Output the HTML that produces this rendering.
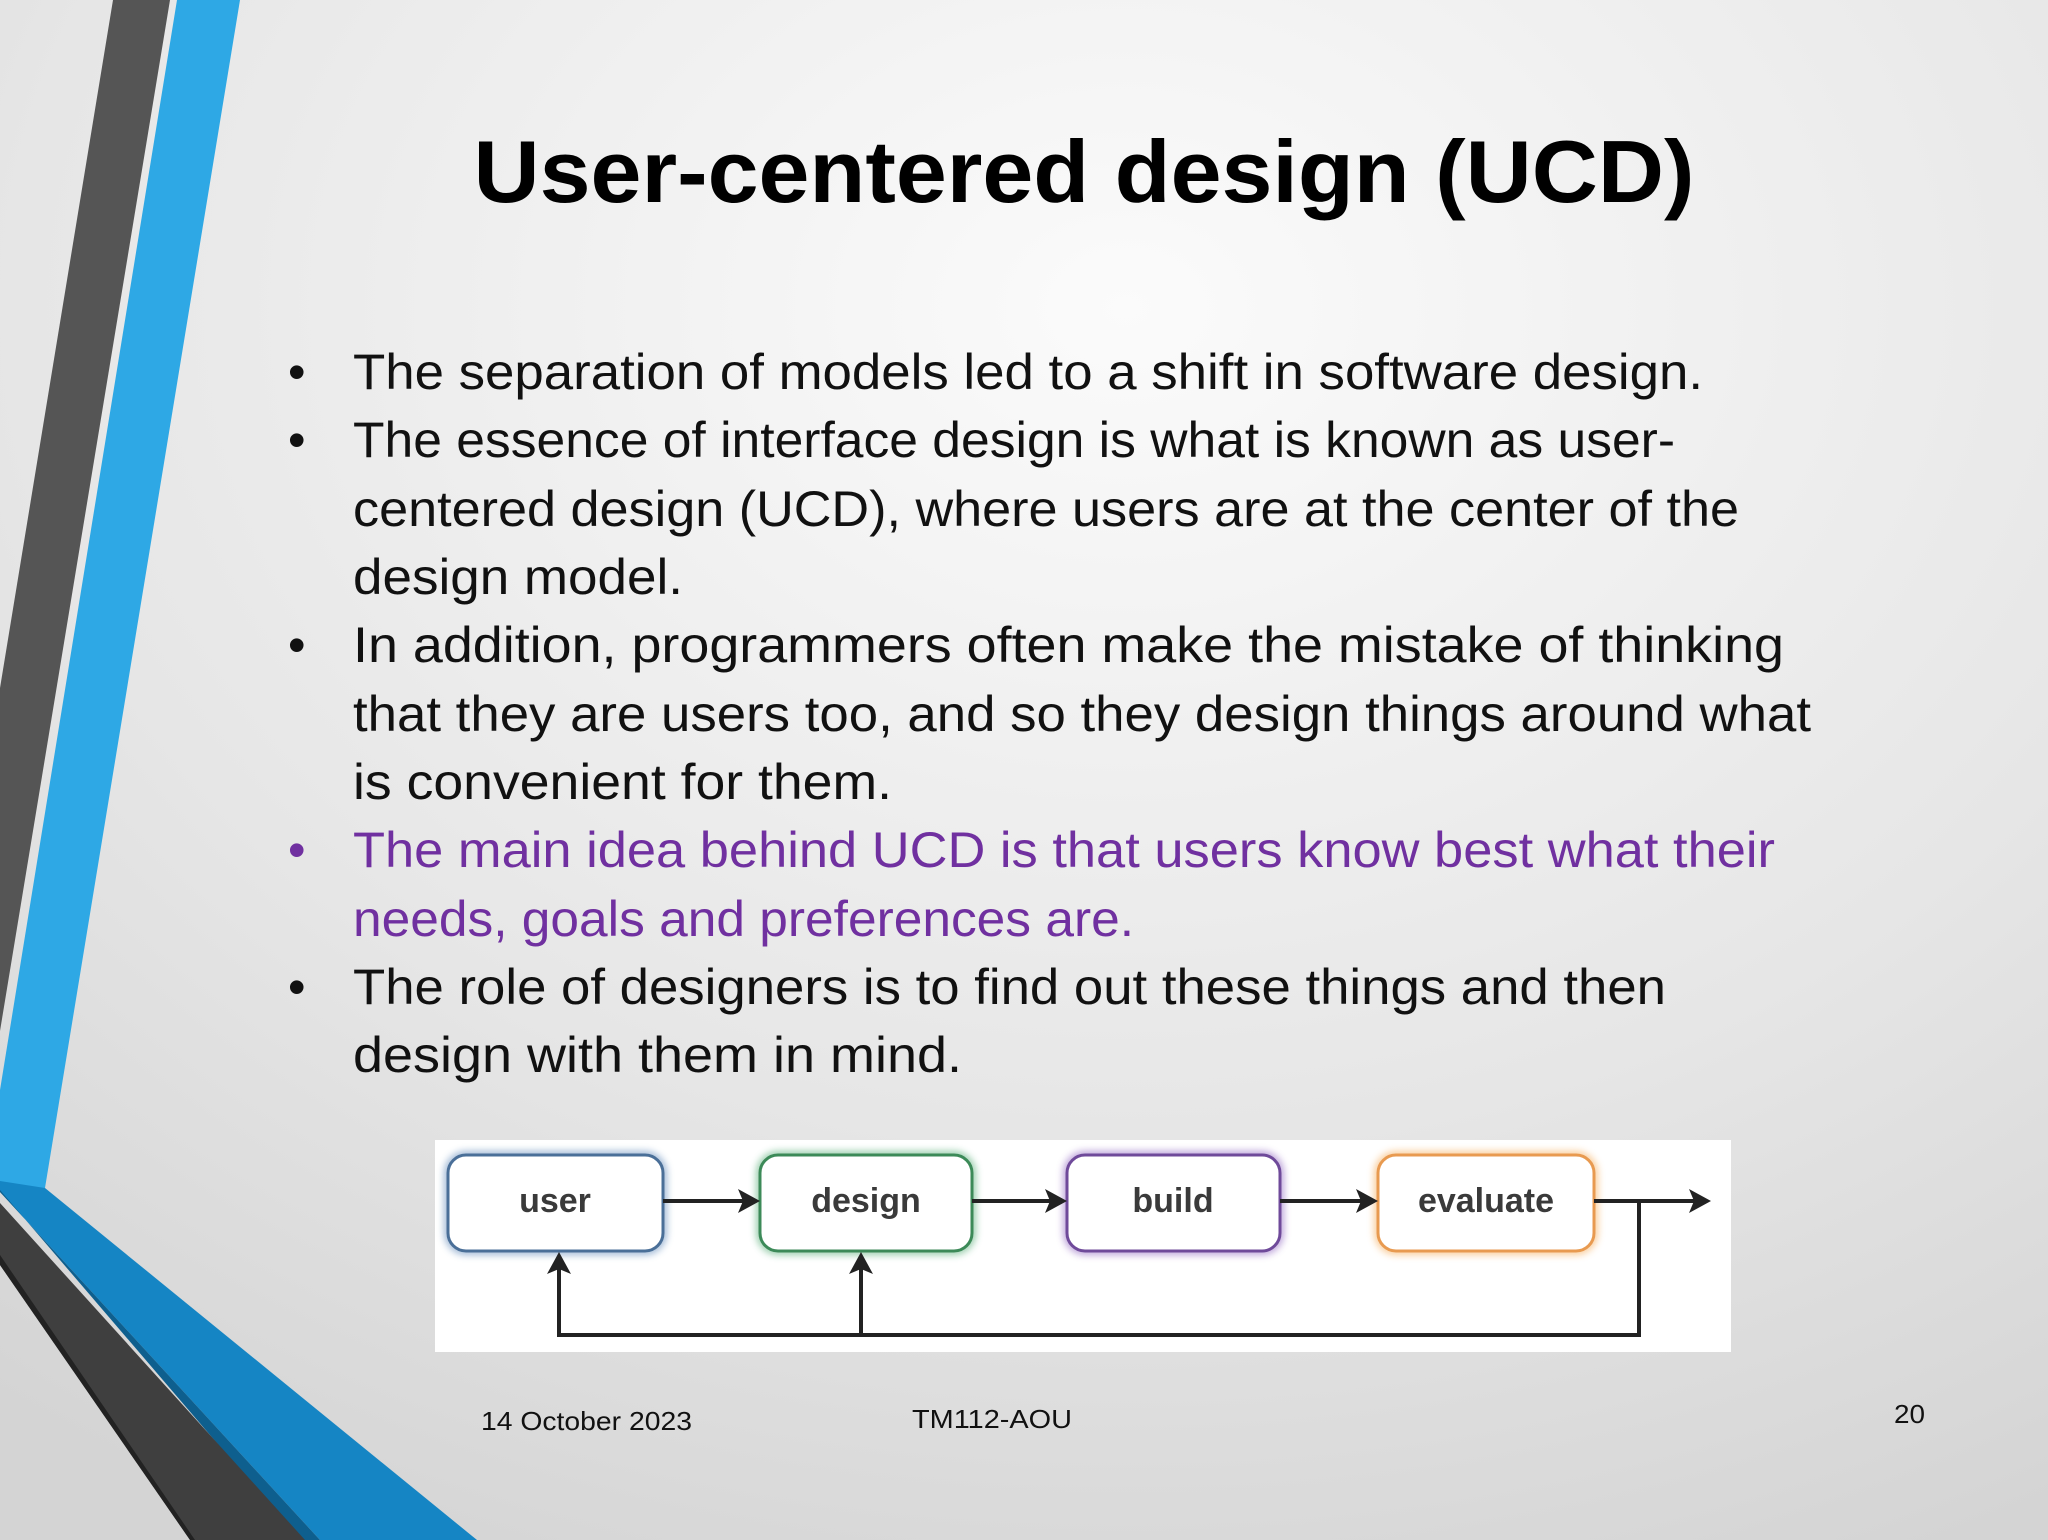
<!DOCTYPE html>
<html><head><meta charset="utf-8"><style>
html,body{margin:0;padding:0;width:2048px;height:1540px;overflow:hidden}
</style></head><body>
<svg width="2048" height="1540" viewBox="0 0 2048 1540" xmlns="http://www.w3.org/2000/svg">
<defs>
<radialGradient id="bg" cx="0.55" cy="0.2" r="0.9">
<stop offset="0" stop-color="#fbfbfb"/><stop offset="0.6" stop-color="#e6e6e6"/><stop offset="1" stop-color="#d4d4d4"/>
</radialGradient>
<filter id="gl" x="-20%" y="-30%" width="140%" height="160%"><feGaussianBlur stdDeviation="4"/></filter>
</defs>
<rect width="2048" height="1540" fill="url(#bg)"/>
<polygon points="113,0 170,0 0,1031 0,688" fill="#555555"/>
<polygon points="177,0 240,0 45,1188 0,1188 0,1090" fill="#2ea8e5"/>
<polygon points="0,1181 45,1188 477,1540 320,1540 0,1192" fill="#1585c4"/>
<polygon points="0,1190 300,1540 320,1540 0,1192" fill="#0e5f8e"/>
<polygon points="0,1203 305,1540 190,1540 0,1265" fill="#3f3f3f"/>
<polygon points="0,1255 195,1540 190,1540 0,1265" fill="#222"/>

<text x="1084" y="202" text-anchor="middle" font-family="Liberation Sans, sans-serif" font-weight="bold" font-size="88" textLength="1221" lengthAdjust="spacingAndGlyphs" fill="#000">User-centered design (UCD)</text>

<g font-family="Liberation Sans, sans-serif" font-size="50" fill="#111">
<text x="288" y="389">•</text>
<text x="353" y="389" textLength="1350" lengthAdjust="spacingAndGlyphs">The separation of models led to a shift in software design.</text>
<text x="288" y="457">•</text>
<text x="353" y="457" textLength="1322" lengthAdjust="spacingAndGlyphs">The essence of interface design is what is known as user-</text>
<text x="353" y="526" textLength="1386" lengthAdjust="spacingAndGlyphs">centered design (UCD), where users are at the center of the</text>
<text x="353" y="594" textLength="330" lengthAdjust="spacingAndGlyphs">design model.</text>
<text x="288" y="662">•</text>
<text x="353" y="662" textLength="1431" lengthAdjust="spacingAndGlyphs">In addition, programmers often make the mistake of thinking</text>
<text x="353" y="731" textLength="1458" lengthAdjust="spacingAndGlyphs">that they are users too, and so they design things around what</text>
<text x="353" y="799" textLength="539" lengthAdjust="spacingAndGlyphs">is convenient for them.</text>
<g fill="#7030a0">
<text x="288" y="867">•</text>
<text x="353" y="867" textLength="1422" lengthAdjust="spacingAndGlyphs">The main idea behind UCD is that users know best what their</text>
<text x="353" y="936" textLength="781" lengthAdjust="spacingAndGlyphs">needs, goals and preferences are.</text>
</g>
<text x="288" y="1004">•</text>
<text x="353" y="1004" textLength="1313" lengthAdjust="spacingAndGlyphs">The role of designers is to find out these things and then</text>
<text x="353" y="1072" textLength="609" lengthAdjust="spacingAndGlyphs">design with them in mind.</text>
</g>

<rect x="435" y="1140" width="1296" height="212" fill="#fff"/>
<g fill="none" stroke-width="6" filter="url(#gl)" opacity="0.7">
<rect x="448" y="1155" width="215" height="96" rx="18" stroke="#4a78b0"/>
<rect x="760" y="1155" width="212" height="96" rx="18" stroke="#3aa060"/>
<rect x="1067" y="1155" width="213" height="96" rx="18" stroke="#8050b8"/>
<rect x="1378" y="1155" width="216" height="96" rx="18" stroke="#f5a040"/>
</g>
<g fill="#fff" stroke-width="3">
<rect x="448" y="1155" width="215" height="96" rx="18" stroke="#4a6f98"/>
<rect x="760" y="1155" width="212" height="96" rx="18" stroke="#3c8a58"/>
<rect x="1067" y="1155" width="213" height="96" rx="18" stroke="#6f4a9a"/>
<rect x="1378" y="1155" width="216" height="96" rx="18" stroke="#e89a50"/>
</g>
<g font-family="Liberation Sans, sans-serif" font-weight="bold" font-size="34" fill="#3a3a3a" text-anchor="middle">
<text x="555" y="1212">user</text>
<text x="866" y="1212">design</text>
<text x="1173" y="1212">build</text>
<text x="1486" y="1212">evaluate</text>
</g>
<g stroke="#222" stroke-width="4" fill="none">
<line x1="663" y1="1201" x2="745" y2="1201"/>
<line x1="972" y1="1201" x2="1052" y2="1201"/>
<line x1="1280" y1="1201" x2="1363" y2="1201"/>
<line x1="1594" y1="1201" x2="1696" y2="1201"/>
<polyline points="1639,1201 1639,1335 559,1335 559,1268"/>
<line x1="861" y1="1335" x2="861" y2="1268"/>
</g>
<g fill="#222">
<polygon points="760,1201 738,1189 743,1201 738,1213"/>
<polygon points="1067,1201 1045,1189 1050,1201 1045,1213"/>
<polygon points="1378,1201 1356,1189 1361,1201 1356,1213"/>
<polygon points="1711,1201 1689,1189 1694,1201 1689,1213"/>
<polygon points="559,1252 547,1274 559,1269 571,1274"/>
<polygon points="861,1252 849,1274 861,1269 873,1274"/>
</g>

<g font-family="Liberation Sans, sans-serif" font-size="26" fill="#111">
<text x="481" y="1430" textLength="211" lengthAdjust="spacingAndGlyphs">14 October 2023</text>
<text x="912" y="1428" textLength="160" lengthAdjust="spacingAndGlyphs">TM112-AOU</text>
<text x="1894" y="1423" textLength="31" lengthAdjust="spacingAndGlyphs">20</text>
</g>
</svg>
</body></html>
